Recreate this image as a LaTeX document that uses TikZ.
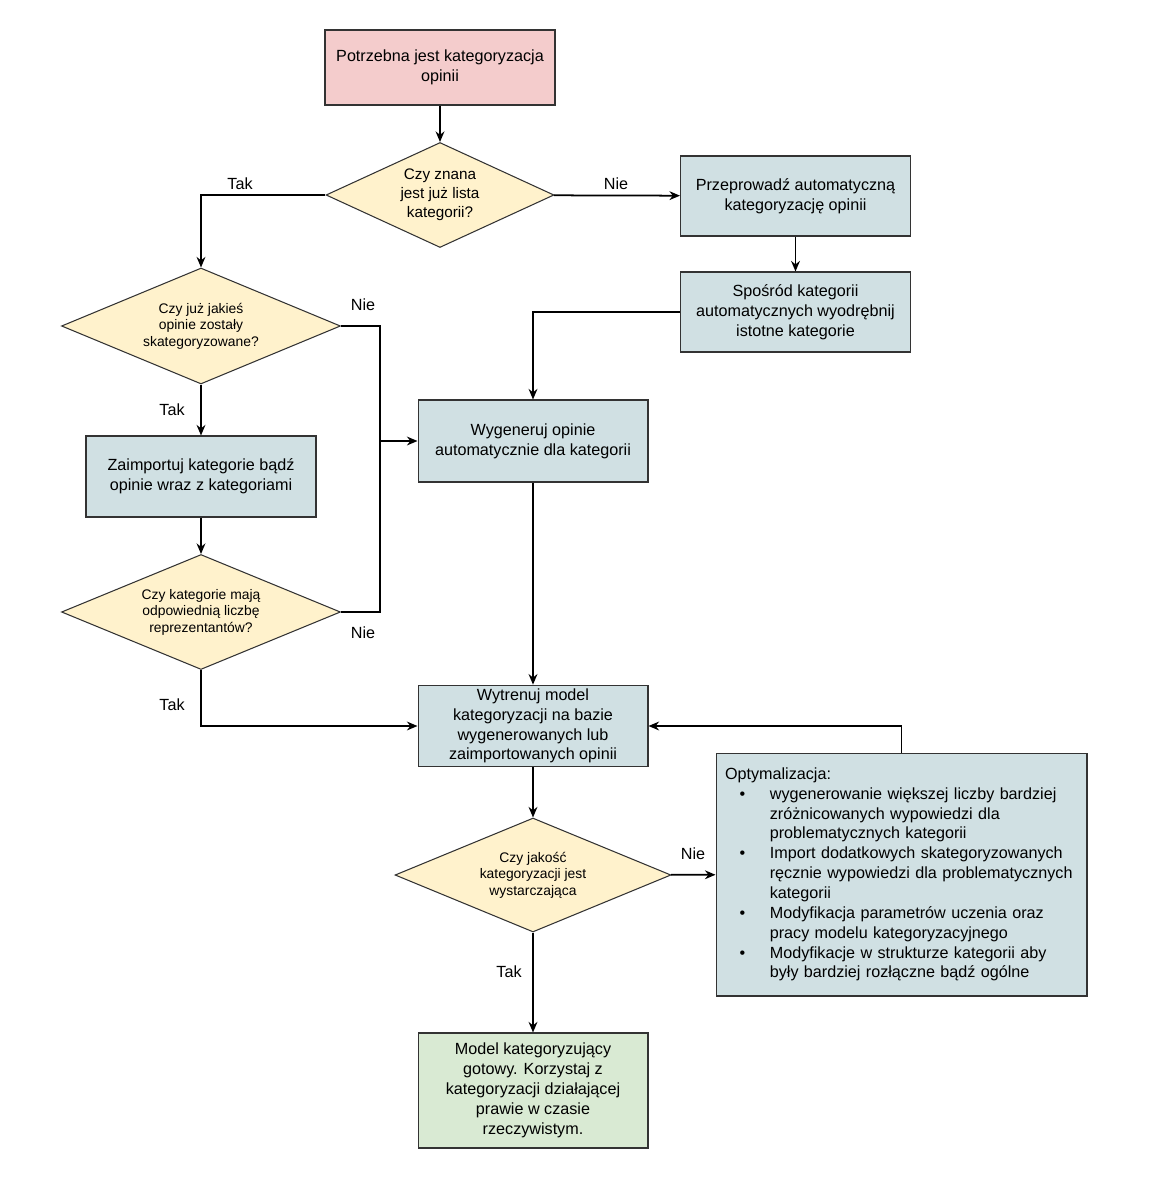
\documentclass[tikz,border=0pt]{standalone}
\usepackage{fontspec}
\setmainfont{Liberation Sans}
\usepackage{enumitem}
\usetikzlibrary{shapes.geometric}
\usetikzlibrary{arrows.meta}

\definecolor{startpink}{HTML}{F4CCCC}
\definecolor{procblue}{HTML}{D0E0E3}
\definecolor{decyellow}{HTML}{FFF2CC}
\definecolor{endgreen}{HTML}{D9EAD3}

\begin{document}
\begin{tikzpicture}[x=0.02cm, y=-0.02cm]
\useasboundingbox (0,0) rectangle (1150,1200);
\begin{scope}[every node/.style={draw=black!80,line width=0.6pt,align=center,
                                 font=\fontsize{9.2}{11.3}\selectfont},
              proc_box/.style={rectangle,fill=procblue,minimum width=4.6cm,
                               minimum height=1.6cm,inner sep=2pt},
              dec_node/.style={diamond,fill=decyellow,aspect=2.4,inner sep=0pt,
                               font=\fontsize{7.9}{9.4}\selectfont}]
    \node [rectangle,fill=startpink,minimum width=4.6cm,minimum height=1.5cm] (start) at (440, 67.5) {Potrzebna jest kategoryzacja\\opinii};
    \node [dec_node,minimum width=4.56cm,minimum height=2.1cm,font=\fontsize{8.7}{10.8}\selectfont] (known) at (440, 195) {Czy znana\\jest już lista\\kategorii?};
    \node [proc_box] (autocat) at (795.5, 196) {Przeprowadź automatyczną\\kategoryzację opinii};
    \node [proc_box] (select) at (795.5, 312) {Spośród kategorii\\automatycznych wyodrębnij\\istotne kategorie};
    \node [proc_box,minimum height=1.64cm] (generate) at (533, 441) {Wygeneruj opinie\\automatycznie dla kategorii};
    \node [dec_node,minimum width=5.58cm,minimum height=2.32cm] (catdone) at (201, 326) {Czy już jakieś\\opinie zostały\\skategoryzowane?};
    \node [proc_box,minimum height=1.62cm] (import) at (201, 476.5) {Zaimportuj kategorie bądź\\opinie wraz z kategoriami};
    \node [dec_node,minimum width=5.58cm,minimum height=2.3cm] (enough) at (201, 612) {Czy kategorie mają\\odpowiednią liczbę\\reprezentantów?};
    \node [proc_box] (train) at (533, 726) {Wytrenuj model\\kategoryzacji na bazie\\wygenerowanych lub\\zaimportowanych opinii};
    \node [dec_node,minimum width=5.52cm,minimum height=2.28cm] (quality) at (533, 875) {Czy jakość\\kategoryzacji jest\\wystarczająca};
    \node [rectangle,fill=procblue,text width=7.06cm,inner sep=0.18cm,
           minimum height=4.86cm,align=left] (optim) at (901.5, 874.5) {Optymalizacja:
        \begin{itemize}[label=\textbullet,leftmargin=25.5pt,labelsep=14pt,
                        itemsep=0pt,topsep=0pt,parsep=0pt,partopsep=0pt]
        \item wygenerowanie większej liczby bardziej\\zróżnicowanych wypowiedzi dla\\problematycznych kategorii
        \item Import dodatkowych skategoryzowanych\\ręcznie wypowiedzi dla problematycznych\\kategorii
        \item Modyfikacja parametrów uczenia oraz\\pracy modelu kategoryzacyjnego
        \item Modyfikacje w strukturze kategorii aby\\były bardziej rozłączne bądź ogólne
        \end{itemize}};
    \node [rectangle,fill=endgreen,minimum width=4.6cm,minimum height=2.3cm] (ready) at (533, 1090.5) {Model kategoryzujący\\gotowy. Korzystaj z\\kategoryzacji działającej\\prawie w czasie\\rzeczywistym.};
\end{scope}
\coordinate (join) at (380, 441);
\begin{scope}[every node/.style={font=\fontsize{9.2}{11}\selectfont}]
    \node (tak1) at (240, 184) {Tak};
    \node (nie1) at (616, 184) {Nie};
    \node (nie2) at (363, 305) {Nie};
    \node (tak2) at (172, 410) {Tak};
    \node (nie3) at (363, 633) {Nie};
    \node (tak3) at (172, 705) {Tak};
    \node (nie4) at (693, 854) {Nie};
    \node (tak4) at (509, 972) {Tak};
\end{scope}
\begin{scope}[>={Stealth[length=6pt,width=5pt]},
              flow/.style={draw=black,line width=1pt}]
    \path [->] (start) edge [flow] (known);
    \path [->] (known) edge [flow] (autocat);
    \path [->] (autocat) edge [flow] (select);
    \draw [flow,->] (known.west) -| (catdone.north);
    \draw [flow,->] (select.west) -| (generate.north);
    \path [->] (catdone) edge [flow] (import);
    \path [->] (import) edge [flow] (enough);
    \draw [flow] (catdone.east) -| (join);
    \draw [flow] (enough.east) -| (join);
    \draw [flow,->] (join) -- (generate.west);
    \draw [flow,->] (enough.south) |- (train.west);
    \path [->] (generate) edge [flow] (train);
    \path [->] (train) edge [flow] (quality);
    \path [->] (quality) edge [flow] (optim);
    \draw [flow,->] (optim.north) |- (train.east);
    \path [->] (quality) edge [flow] (ready);
\end{scope}
\end{tikzpicture}
\end{document}
